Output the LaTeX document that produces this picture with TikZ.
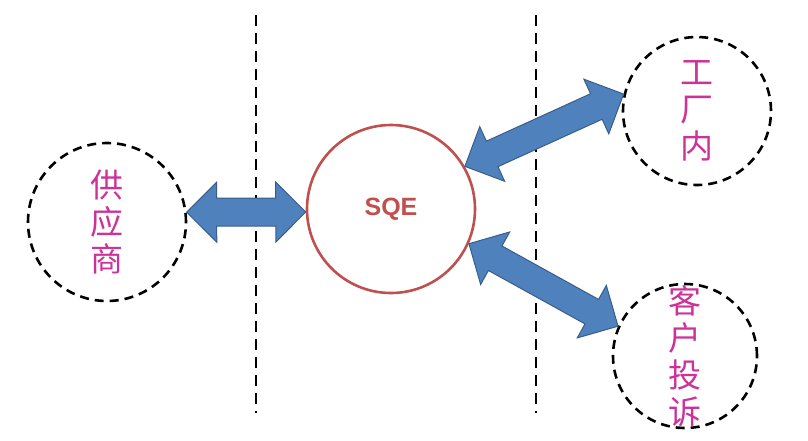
\documentclass[tikz,border=0pt]{standalone}
\usepackage{fontspec}
\setsansfont{Liberation Sans}
\newfontfamily\cjk{Noto Sans CJK SC}
\usetikzlibrary{calc}

\definecolor{arrowblue}{RGB}{79,129,189}
\definecolor{arrowedge}{RGB}{56,93,138}
\definecolor{sqered}{RGB}{192,80,77}
\definecolor{labelpink}{RGB}{204,51,153}

% double block arrow between two points
\newcommand\dblarrow[2]{%
	\filldraw[bigarrow] (#1)
	-- ($(#1)!30pt!(#2)!30pt!90:(#2)$) -- ($(#1)!30pt!(#2)!14pt!90:(#2)$)
	-- ($(#2)!30pt!(#1)!14pt!-90:(#1)$) -- ($(#2)!30pt!(#1)!30pt!-90:(#1)$)
	-- (#2)
	-- ($(#2)!30pt!(#1)!30pt!90:(#1)$) -- ($(#2)!30pt!(#1)!14pt!90:(#1)$)
	-- ($(#1)!30pt!(#2)!14pt!-90:(#2)$) -- ($(#1)!30pt!(#2)!30pt!-90:(#2)$)
	-- cycle;}

\begin{document}
\begin{tikzpicture}[x=1pt, y=-1pt,
	divider/.style={line width=2.6pt, dash pattern=on 11pt off 7pt},
	party/.style={circle, draw, line width=2.6pt, dash pattern=on 9pt off 6pt, inner sep=0pt},
	hub/.style={circle, draw=sqered, line width=2.6pt, inner sep=0pt, minimum size=168pt},
	cjklabel/.style={font=\cjk\fontsize{33}{37}\selectfont, text=labelpink, align=center, inner sep=0pt},
	bigarrow/.style={fill=arrowblue, draw=arrowedge, line width=1pt, line join=miter}]
	\useasboundingbox (0,0) rectangle (808,440);

	\draw[divider] (256,15) -- (256,413);
	\draw[divider] (536,15) -- (536,413);

	\node[party, minimum size=158pt] (gys) at (107,222) {};
	\node[hub] (sqe) at (391,209) {};
	\node[party, minimum size=148pt] (fac) at (697,111) {};
	\node[party, minimum size=144pt] (cust) at (685,356) {};

	\node[cjklabel] (gystxt) at (gys) {供\\应\\商};
	\node[font=\sffamily\bfseries\fontsize{25}{30}\selectfont, text=sqered] (sqetxt) at (sqe) {SQE};
	\node[cjklabel] (factxt) at (fac) {工\\厂\\内};
	\node[cjklabel] (custtxt) at (cust) {客\\户\\投\\诉};

	\dblarrow{gys.7}{sqe.182}
	\dblarrow{sqe.30}{fac.167}
	\dblarrow{sqe.-24}{cust.156}
\end{tikzpicture}
\end{document}
